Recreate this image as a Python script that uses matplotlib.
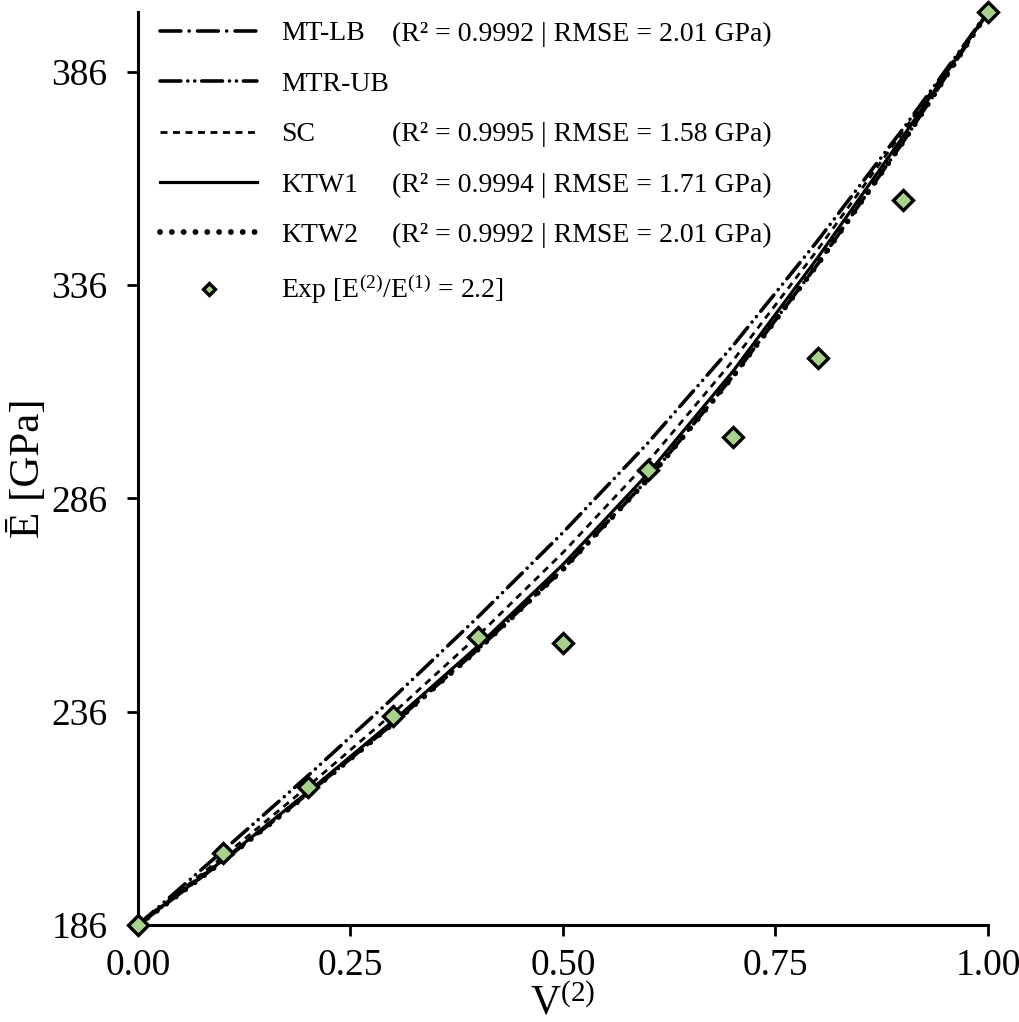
import matplotlib
matplotlib.use('Agg')
import matplotlib.pyplot as plt
from matplotlib.lines import Line2D
import numpy as np

plt.rcParams['font.family'] = ['Liberation Serif', 'DejaVu Serif']
plt.rcParams['mathtext.fontset'] = 'custom'
plt.rcParams['mathtext.rm'] = 'Liberation Serif'
plt.rcParams['mathtext.it'] = 'Liberation Serif:italic'
plt.rcParams['lines.scale_dashes'] = False

# volume fraction of phase 2
v2 = [0.0, 0.1, 0.2, 0.3, 0.4, 0.5, 0.6, 0.7, 0.8, 0.9, 1.0]

# model curves [GPa]
mt_lb = [186, 201.0, 216.8, 233.2, 250.6, 269.4, 290.5, 314.6, 341.0, 369.5, 400]
mtr_ub = [186, 203.4, 221.0, 239.2, 258.2, 278.0, 299.0, 321.8, 346.5, 372.6, 400]
sc = [186, 202.0, 218.5, 235.6, 253.8, 273.3, 294.6, 318.3, 344.4, 372.0, 400]
ktw1 = [186, 201.2, 217.2, 233.8, 251.4, 270.5, 291.8, 315.8, 342.5, 370.8, 400]
ktw2 = [186, 201.0, 216.8, 233.2, 250.6, 269.4, 290.5, 314.6, 341.0, 369.5, 400]

# experiment
exp_v = [0.0, 0.1, 0.2, 0.3, 0.4, 0.5, 0.6, 0.7, 0.8, 0.9, 1.0]
exp_e = [186, 202.9, 218.3, 234.9, 253.4, 252.0, 292.6, 300.3, 318.8, 356.0, 400]

names = ['MT-LB', 'MTR-UB', 'SC', 'KTW1', 'KTW2']
stats = {'MT-LB': '(R² = 0.9992 | RMSE = 2.01 GPa)',
         'SC': '(R² = 0.9995 | RMSE = 1.58 GPa)',
         'KTW1': '(R² = 0.9994 | RMSE = 1.71 GPa)',
         'KTW2': '(R² = 0.9992 | RMSE = 2.01 GPa)'}

xticks = [0.0, 0.25, 0.5, 0.75, 1.0]
yticks = [186, 236, 286, 336, 386]

W, H = 1020, 1022
fig = plt.figure(figsize=(W/100, H/100), dpi=100)
ax = fig.add_axes([138/W, 1-925/H, 850/W, 913/H])

l1, = ax.plot(v2, mt_lb, color='k', lw=2.6, dashes=[15, 6, 0.01, 6],
              dash_capstyle='round')
l2, = ax.plot(v2, mtr_ub, color='k', lw=2.6, dashes=[15, 5, 0.01, 5, 0.01, 5],
              dash_capstyle='round')
l3, = ax.plot(v2, sc, color='k', lw=2.0, dashes=[5, 4])
l4, = ax.plot(v2, ktw1, color='k', lw=2.3)
l5, = ax.plot(v2, ktw2, color='k', lw=4.2, dashes=[0.01, 8.5],
              dash_capstyle='round')
pe, = ax.plot(exp_v, exp_e, ls='none', marker='D', ms=10.5, mfc='#a9d18e',
              mec='k', mew=2.4, clip_on=False, zorder=5)

ax.set_xlim(0, 1)
ax.set_ylim(186, 400)
ax.set_xticks(xticks)
ax.set_xticklabels(['%.2f' % t for t in xticks])
ax.set_yticks(yticks)
ax.tick_params(direction='out', length=8, width=2, labelsize=27)
ax.tick_params(axis='x', pad=9)
ax.tick_params(axis='y', pad=14)
for s in ['top', 'right']:
    ax.spines[s].set_visible(False)
for s in ['left', 'bottom']:
    ax.spines[s].set_linewidth(2.2)

ax.set_xlabel('V$^{(2)}$', fontsize=30, labelpad=1)
ax.set_ylabel('Ē [GPa]', fontsize=31, labelpad=2)

leg = fig.legend([l1, l2, l3, l4, l5, pe],
                 names + ['Exp [E$^{(2)}$/E$^{(1)}$ = 2.2]'],
                 loc='upper left', bbox_to_anchor=(160/W, 1-21/H),
                 frameon=False, fontsize=20, handlelength=3.5,
                 handletextpad=0.85, labelspacing=0.9, markerscale=0.6,
                 borderaxespad=0, borderpad=0)

fig.canvas.draw()
inv = fig.transFigure.inverted()
for t in leg.get_texts():
    name = t.get_text()
    if name in stats:
        bb = t.get_window_extent()
        yc = inv.transform((0, (bb.y0 + bb.y1) / 2))[1]
        fig.text(392/W, yc, stats[name], fontsize=20, va='center', ha='left')

fig.savefig('out.png', dpi=100)
